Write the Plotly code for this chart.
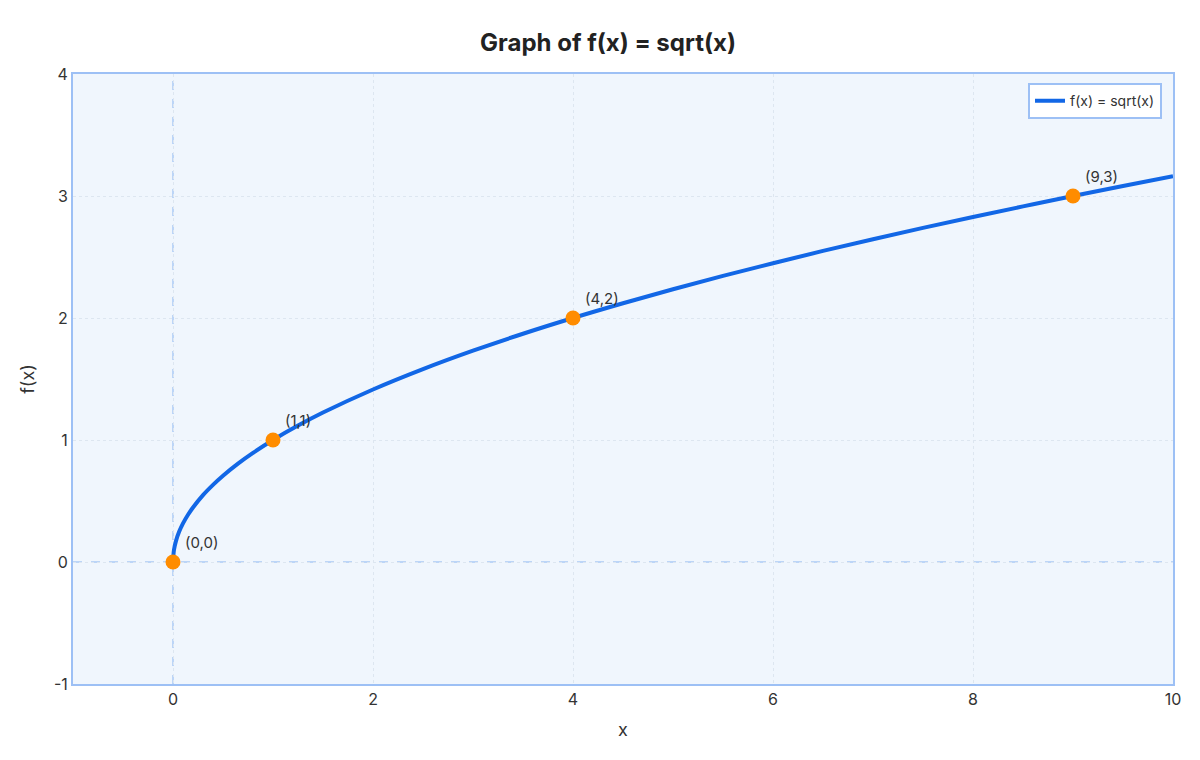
import plotly.graph_objects as go

curve_x = [0, 0.01, 0.03, 0.06, 0.1, 0.15, 0.2, 0.3, 0.4, 0.5, 0.65, 0.8, 1, 1.25, 1.5, 2, 2.5, 3, 3.5, 4, 4.5, 5, 5.5, 6, 6.5, 7, 7.5, 8, 8.5, 9, 9.5, 10]
curve_y = [0, 0.1, 0.173, 0.245, 0.316, 0.387, 0.447, 0.548, 0.632, 0.707, 0.806, 0.894, 1, 1.118, 1.225, 1.414, 1.581, 1.732, 1.871, 2, 2.121, 2.236, 2.345, 2.449, 2.55, 2.646, 2.739, 2.828, 2.915, 3, 3.082, 3.162]
pt_x = [0, 1, 4, 9]
pt_y = [0, 1, 2, 3]
pt_labels = ["(0,0)", "(1,1)", "(4,2)", "(9,3)"]
y_ticks = [-1, 0, 1, 2, 3, 4]
y_ticktext = ["-1", "0", "1", "2", "3", "4"]

fig = go.Figure()
fig.add_trace(go.Scatter(x=curve_x, y=curve_y, mode="lines", name="f(x) = sqrt(x)",
                         line=dict(color="#1267e6", width=4, shape="spline")))
fig.add_trace(go.Scatter(x=pt_x, y=pt_y, mode="markers", showlegend=False,
                         marker=dict(color="#ff8c00", size=15)))
for x, y, t in zip(pt_x, pt_y, pt_labels):
    fig.add_annotation(x=x, y=y, text=t, showarrow=False, xanchor="left", yanchor="bottom",
                       xshift=10, yshift=8, font=dict(size=15, color="#333"))
fig.add_hline(y=0, line=dict(color="#bcd5f7", width=2, dash="dash"), layer="below")
fig.add_vline(x=0, line=dict(color="#bcd5f7", width=2, dash="dash"), layer="below")

axcommon = dict(showline=True, mirror=True, linecolor="#9dc0f5", linewidth=2,
                gridcolor="#dde6f0", griddash="dot", zeroline=False, ticks="",
                tickfont=dict(size=16, color="#333"))
fig.update_layout(
    width=1200, height=760, font=dict(family="Inter, sans-serif", color="#333"),
    title=dict(text="<b>Graph of f(x) = sqrt(x)</b>", x=0.5, y=0.965, font=dict(size=24, color="#222")),
    plot_bgcolor="#f0f6fd", paper_bgcolor="white",
    margin=dict(l=65, r=35, t=66, b=84),
    xaxis=dict(range=[-1, 10], dtick=2, title=dict(text="x", font=dict(size=18)), **axcommon),
    yaxis=dict(range=[-1, 4], tickvals=y_ticks, ticktext=y_ticktext,
               title=dict(text="f(x)", font=dict(size=18)), **axcommon),
    legend=dict(x=0.99, y=0.985, xanchor="right", yanchor="top", bgcolor="white",
                bordercolor="#9dc0f5", borderwidth=2, font=dict(size=14)),
)
fig.write_html("out.html")
